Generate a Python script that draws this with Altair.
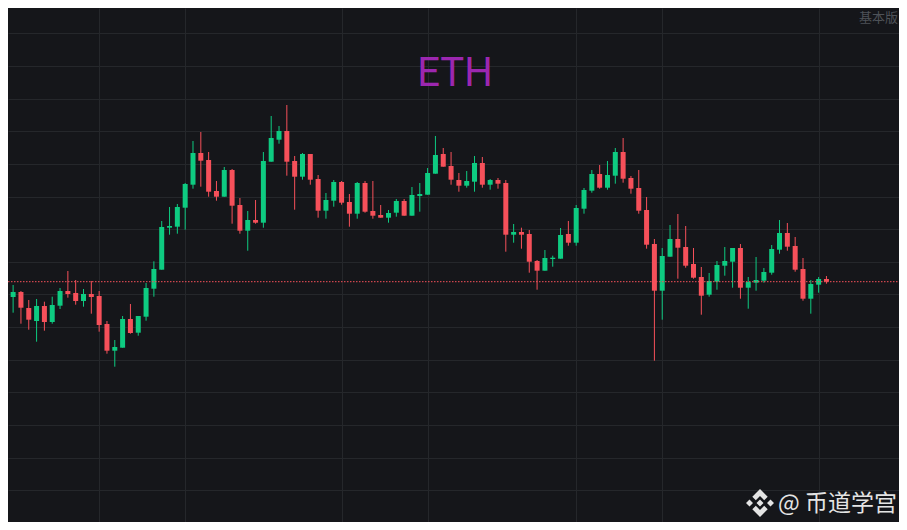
import altair as alt
import pandas as pd

# ---- data (price units, arbitrary scale) ----
open_ = [264, 303, 308, 292, 279, 294, 278, 294.3, 309, 307,
         299, 306, 304, 276, 249.3, 252.3, 281, 267.3, 283.3, 311.3,
         330.3, 372.3, 373.3, 392.3, 415.3, 447, 440, 409, 403.3, 430,
         395, 369.3, 380, 377.3, 438.3, 460.3, 469, 439, 423.3, 446,
         421, 389.3, 399.3, 418, 398, 386.3, 417, 389, 385, 382.3,
         387.3, 399, 384.3, 404, 405.3, 426.3, 446, 434, 420, 414.3,
         418.3, 437, 415.3, 420, 417, 365.3, 368, 366, 339, 329.3,
         341, 341.3, 366, 357.3, 391.3, 409.3, 426, 412.3, 424.3, 448,
         422, 412, 390, 356, 309.3, 343.3, 361, 353, 336, 323,
         305.3, 318.3, 334.3, 338.3, 352, 312.3, 317.3, 319.3, 327.3, 350.3,
         367, 354, 331, 301.3, 315.3, 321]
high = [305.3, 315, 309, 300, 301, 298.3, 303.3, 312, 329, 320,
        311, 319, 309, 279, 260, 284, 296, 284, 317, 338.7,
        379, 393, 396, 417, 459, 468, 448, 419, 433, 431,
        402, 389, 400, 448, 484, 474, 495, 444, 447, 446,
        425, 407, 420, 419, 406, 418, 419, 419, 395, 390,
        401, 401, 413, 417, 432, 464, 452, 448, 427, 429,
        444, 443, 421, 422, 420, 376, 372.3, 370, 340, 350,
        344.3, 372, 379, 395, 412, 430, 435, 439, 452, 462,
        424, 430, 403, 361, 352, 375, 386, 374, 352, 333,
        327, 339, 353, 352, 356, 323, 343, 332, 355, 380,
        377, 363, 342, 320, 323, 324]
low = [262, 287.3, 276.3, 270.3, 258.3, 269.3, 276.3, 291, 302.3, 295.3,
       293.3, 286.3, 268.3, 246.3, 233.3, 252.3, 266.3, 264.3, 279.3, 303.3,
       330.3, 365.3, 366.3, 370.3, 411.3, 413.3, 403.3, 399.3, 403.3, 376.3,
       366.3, 349.3, 376.3, 372.3, 438.3, 456.3, 424.3, 390.3, 420.3, 415.3,
       382.3, 381.3, 393.3, 395.3, 373.3, 381.3, 387.3, 381.3, 382.3, 377.3,
       383.3, 384.3, 384.3, 388.3, 405.3, 426.3, 433.3, 415.3, 408.3, 412.3,
       408.3, 412.3, 410.3, 411.3, 348.3, 357.3, 351.3, 327.3, 310.3, 329.3,
       333.3, 341.3, 354.3, 354.3, 386.3, 407.3, 411.3, 410.3, 416.3, 417.3,
       406.3, 386.3, 351.3, 239.3, 280.3, 343.3, 321.3, 332.3, 321.3, 285.3,
       303.3, 310.3, 324.3, 312.3, 301.3, 291.3, 309.3, 317.3, 325.3, 346.3,
       349.3, 328.3, 299.3, 286.3, 307.3, 316.3]
close = [304, 308, 292.3, 280.3, 294, 278, 295, 309, 306, 299,
         306, 303, 275, 249.3, 253, 281, 267, 284, 312, 331,
         373, 374, 393, 416, 447, 439.3, 408.3, 403.3, 430, 394.3,
         369.3, 380, 377.3, 439, 462, 469, 438.3, 423.3, 446, 420.3,
         389.3, 400, 418, 397.3, 386.3, 417, 388.3, 384.3, 382.3, 387,
         399, 384.3, 405, 406, 427, 445, 433.3, 420.3, 414.3, 419,
         437, 415.3, 420, 416.3, 365.3, 368, 365.3, 338.3, 329.3, 342,
         342.3, 365, 357.3, 392, 410, 426, 412.3, 425, 448, 421.3,
         411.3, 389.3, 355.3, 309.3, 344, 361, 352.3, 334.3, 322.3, 304.3,
         319, 335, 339, 352, 312.3, 318, 320, 328, 351, 367,
         353.3, 330.3, 301.3, 316, 321, 318.3]

grid_x = [12, 23, 43, 54, 73, 84, 104]          # vertical grid (candle index)
grid_y = [566.75, 534.1, 501.45, 468.8, 436.15, 403.5, 370.85, 338.2,
          305.55, 272.9, 240.25, 207.6, 174.95, 142.3, 109.65]

title_text = "ETH"
corner_text = "基本版"
watermark_text = "@ 币道学宫"

GREEN = "#0ECB81"
RED = "#F6505A"
BG = "#15161A"
GRID = "#25272B"

W, H = 891, 514

df = pd.DataFrame({"i": list(range(len(open_))), "open": open_, "high": high,
                   "low": low, "close": close})
df["dir"] = ["up" if c >= o else "down" for o, c in zip(df["open"], df["close"])]
df["left"] = df["i"] - 0.32
df["right"] = df["i"] + 0.32

xs = alt.Scale(domain=[0.345, 114.277], nice=False, zero=False)
ys = alt.Scale(domain=[78, 592], nice=False, zero=False)
col = alt.Color("dir:N", scale=alt.Scale(domain=["up", "down"], range=[GREEN, RED]), legend=None)

ax_x = alt.Axis(values=grid_x, grid=True, labels=False, ticks=False, domain=False,
                title=None, minExtent=0, maxExtent=0)
ax_y = alt.Axis(values=grid_y, grid=True, labels=False, ticks=False, domain=False,
                title=None, minExtent=0, maxExtent=0)

base = alt.Chart(df)

wicks = base.mark_rule(strokeWidth=1).encode(
    x=alt.X("i:Q", scale=xs, axis=ax_x),
    y=alt.Y("low:Q", scale=ys, axis=ax_y),
    y2="high:Q",
    color=col,
)

bodies = base.mark_rect().encode(
    x=alt.X("left:Q", scale=xs, axis=ax_x),
    x2="right:Q",
    y=alt.Y("open:Q", scale=ys, axis=ax_y),
    y2="close:Q",
    color=col,
)

last = df.tail(1)
price_line = alt.Chart(last).mark_rule(color=RED, strokeDash=[1.5, 1.5], strokeWidth=1).encode(
    y=alt.Y("close:Q", scale=ys, axis=ax_y),
    x=alt.value(0),
    x2=alt.value(W),
)

title = alt.Chart(pd.DataFrame({"t": [title_text]})).mark_text(
    font="Roboto", fontSize=40, color="#9C27B0", align="center", baseline="alphabetic"
).encode(text="t:N", x=alt.value(447), y=alt.value(77.7))

corner = alt.Chart(pd.DataFrame({"t": [corner_text]})).mark_text(
    font="Noto Sans CJK SC", fontSize=13, color="#4E5258", align="right", baseline="alphabetic"
).encode(text="t:N", x=alt.value(890), y=alt.value(14))

wm_text = alt.Chart(pd.DataFrame({"t": [watermark_text]})).mark_text(
    font="Noto Sans CJK SC", fontSize=23, color="#E4E4E4", align="right", baseline="middle"
).encode(text="t:N", x=alt.value(889), y=alt.value(496))

logo_path = ("M0,-0.25L0.25,0L0,0.25L-0.25,0Z "
             "M-0.75,-0.25L-0.5,0L-0.75,0.25L-1,0Z "
             "M0.75,-0.25L1,0L0.75,0.25L0.5,0Z "
             "M0,-1L0.55,-0.45L0.3,-0.2L0,-0.5L-0.3,-0.2L-0.55,-0.45Z "
             "M0,1L0.55,0.45L0.3,0.2L0,0.5L-0.3,0.2L-0.55,0.45Z")
logo = alt.Chart(pd.DataFrame({"t": ["logo"]})).mark_point(
    shape=logo_path, size=784, filled=True, color="#E4E4E4", opacity=1, strokeWidth=0
).encode(x=alt.value(752), y=alt.value(495))

chart = alt.layer(wicks, bodies, price_line, title, corner, wm_text, logo).properties(
    width=W, height=H, padding=0, background=BG,
    autosize=alt.AutoSizeParams(type="none"),
).configure_view(stroke=None).configure_axis(gridColor=GRID, gridWidth=1, gridOpacity=1)

chart.save("out.html", embed_options={"renderer": "svg", "actions": False})
